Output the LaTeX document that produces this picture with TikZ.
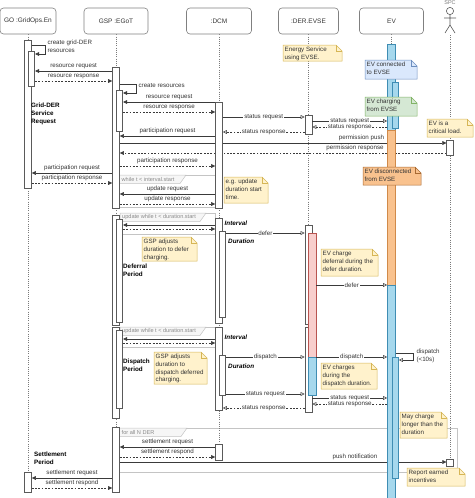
\documentclass[tikz,border=0pt]{standalone}
\usepackage{fontspec}
\setmainfont{Liberation Sans}
\usetikzlibrary{arrows.meta}
\pgfdeclarelayer{back}
\pgfsetlayers{back,main}
\definecolor{txt}{HTML}{333333}
\definecolor{ln}{HTML}{3A3A3A}
\definecolor{barD}{HTML}{5A5A5A}
\definecolor{lifeC}{HTML}{7A7A7A}
\definecolor{hdrD}{HTML}{808080}
\definecolor{frmC}{HTML}{C4C4C4}
\definecolor{tabF}{HTML}{F6F6F6}
\definecolor{tabT}{HTML}{8A8A8A}
\definecolor{yF}{HTML}{FFF2CC}\definecolor{yD}{HTML}{D6B656}
\definecolor{bF}{HTML}{DAE8FC}\definecolor{bD}{HTML}{6C8EBF}
\definecolor{gF}{HTML}{D5E8D4}\definecolor{gD}{HTML}{82B366}
\definecolor{oF}{HTML}{F9C28E}\definecolor{oD}{HTML}{A86A32}
\definecolor{evB}{HTML}{A6D8ED}\definecolor{evBD}{HTML}{3F8DB3}
\definecolor{evO}{HTML}{F9C28E}\definecolor{evOD}{HTML}{D08A4A}
\definecolor{pkF}{HTML}{F8CECC}\definecolor{pkD}{HTML}{B85450}

\newcommand\abar[5]{\pgfmathsetmacro\barh{#5-#4}\node[#1,minimum height=\barh pt,anchor=north] (#2) at (#3,#4) {};}
\newcommand\notebox[7]{%
  \filldraw[fill=#1F,draw=#1D,line width=0.5pt] (#3,#4) -- (#5-6,#4) -- (#5,#4+6) -- (#5,#6) -- (#3,#6) -- cycle;
  \draw[#1D,line width=0.5pt] (#5-6,#4) -- (#5-6,#4+6) -- (#5,#4+6);
  \node[notetxt,anchor=north west] (#2) at (#3+1.5,#4+1.8) {#7};}
\newcommand\frametab[5]{%
  \filldraw[fill=tabF,draw=frmC,line width=0.5pt] (#2,#3) -- (#4,#3) -- (#4-6,#3+8.5) -- (#2,#3+8.5) -- cycle;
  \node[tabtxt,anchor=west] (#1) at (#2+2,#3+4.5) {#5};}

\tikzset{
  hdr/.style={draw=hdrD,line width=0.6pt,rounded corners=3.5pt,fill=white,minimum height=26pt,inner sep=0pt,text=txt,font=\fontsize{6.5}{7.5}\selectfont},
  actbar/.style={draw=barD,fill=white,line width=0.55pt,minimum width=7pt,inner sep=0pt},
  nbar/.style={actbar,minimum width=6.5pt},
  pkbar/.style={actbar,fill=pkF,draw=pkD,minimum width=8pt},
  dbbar/.style={actbar,fill=evB,draw=evBD,minimum width=8pt},
  evbbar/.style={actbar,fill=evB,draw=evBD,minimum width=8pt},
  evobar/.style={actbar,fill=evO,draw=evOD,minimum width=8pt},
  evnbar/.style={actbar,fill=evB,draw=evBD,minimum width=6pt},
  msg/.style={draw=ln,line width=0.55pt,-{Triangle[length=4.2pt,width=3.8pt]}},
  rsp/.style={msg,dash pattern=on 1.8pt off 1.5pt},
  omsg/.style={draw=ln,line width=0.55pt,-{Triangle[open,length=4.2pt,width=3.8pt]}},
  orsp/.style={omsg,dash pattern=on 1.8pt off 1.5pt},
  lbl/.style={font=\fontsize{6.2}{8}\selectfont,text=txt,inner sep=0.4pt},
  lblw/.style={lbl,fill=white,inner sep=0.8pt},
  life/.style={draw=lifeC,line width=0.6pt,dash pattern=on 1pt off 1.2pt},
  frm/.style={draw=frmC,line width=0.6pt},
  tabtxt/.style={font=\fontsize{5.6}{6.5}\selectfont,text=tabT,inner sep=0pt},
  notetxt/.style={font=\fontsize{6.2}{7.8}\selectfont,text=txt,align=left,inner sep=0pt},
  boldlbl/.style={font=\fontsize{6.3}{8}\bfseries\selectfont,text=black,align=left,inner sep=0pt,anchor=north west},
  bilbl/.style={font=\fontsize{6.3}{8}\bfseries\itshape\selectfont,text=black,inner sep=0pt,anchor=west},
}

\begin{document}
\begin{tikzpicture}[x=1pt,y=-1pt]
\useasboundingbox (0,0) rectangle (474,498);

% headers
\node[hdr,minimum width=56pt] (hGO) at (28,21) {GO :GridOps.En};
\node[hdr,minimum width=64pt] (hGSP) at (116,21) {GSP :EGoT};
\node[hdr,minimum width=65pt] (hDCM) at (219,21) {:DCM};
\node[hdr,minimum width=60pt] (hDER) at (308.5,21) {:DER.EVSE};
\node[hdr,minimum width=64pt] (hEV) at (391.5,21) {EV};
% actor
\node[lbl,text=lifeC,font=\fontsize{5.5}{6}\selectfont] (spcl) at (450,2.5) {SPC};
\draw[barD,line width=0.6pt] (450,11) circle[radius=3.6pt];
\draw[barD,line width=0.6pt] (450,14.6) -- (450,25) (444,18) -- (456,18) (445,33) -- (450,25) -- (455,33);
\coordinate (spc) at (450,35);

% bars
\abar{actbar}{goA}{28}{40}{188}
\abar{nbar}{goB}{31.5}{51}{86}
\abar{actbar}{goC}{28}{472}{492}
\abar{actbar}{gspA}{116}{67}{208}
\abar{nbar}{gspB}{119.5}{90}{131}
\abar{actbar}{gspC}{116}{215}{325}
\abar{nbar}{gspD}{119.5}{219}{322}
\abar{actbar}{gspE}{116}{327}{418}
\abar{nbar}{gspF}{119.5}{330}{408}
\abar{actbar}{gspG}{116}{427}{492}
\abar{actbar}{dcmA}{219}{102}{208}
\abar{actbar}{dcmB}{219}{218}{323}
\abar{nbar}{dcmC}{222.5}{231}{317}
\abar{actbar}{dcmD}{219}{327}{410}
\abar{nbar}{dcmE}{222.5}{355}{395}
\abar{actbar}{dcmF}{219}{444}{460}
\abar{actbar}{derA}{308.5}{115}{134}
\abar{actbar}{derB}{308.5}{225}{324}
\abar{actbar}{derE}{308.5}{327}{412}
\abar{pkbar}{derC}{312}{233}{357}
\abar{dbbar}{derD}{312}{357}{395}
\abar{evbbar}{evA}{391.5}{44}{130}
\abar{evobar}{evC}{391.5}{130}{285}
\abar{evbbar}{evD}{391.5}{285}{499}
\abar{evnbar}{evB}{395.5}{82}{128}
\abar{evnbar}{evE}{395.5}{357}{478}
\abar{nbar}{spcA}{450}{140}{155}
\abar{nbar}{spcB}{450}{459}{466}

\begin{pgfonlayer}{back}
% frames
\draw[frm] (119.5,175) rectangle (215,207);
\frametab{t1}{119.5}{175}{186}{while t < interval.start}
\draw[frm] (120,213) rectangle (215.5,234);
\frametab{t2}{120}{213}{206}{update while t < duration.start}
\draw[frm] (120,327) rectangle (215.5,347);
\frametab{t3}{120}{327}{206}{update while t < duration.start}
\draw[frm] (119.5,428) rectangle (457,472);
\frametab{t4}{119.5}{428}{187}{for all N DER}
% lifelines
\draw[life] (hGO.south) -- (hGO.south|-0,472);
\draw[life] (hGSP.south) -- (hGSP.south|-0,427);
\draw[life] (hDCM.south) -- (hDCM.south|-0,444);
\draw[life] (hDER.south) -- (hDER.south|-0,412);
\draw[life] (hEV.south) -- (hEV.south|-0,44);
\draw[life] (spc) -- (spc|-0,459);
% long messages behind bars
\draw[msg] (gspA.east|-0,143) -- node[lbl,above=1.5pt,pos=0.74] (m10) {permission push} (spcA.west|-0,143);
\draw[rsp] (spcA.west|-0,153) -- node[lbl,above=1.5pt,pos=0.28] (m11) {permission response} (gspA.east|-0,153);
\draw[msg] (gspG.east|-0,462) -- node[lbl,above=1.5pt,pos=0.72] (m32) {push notification} (spcB.west|-0,462);
\end{pgfonlayer}

% self calls
\draw[msg] (goA.east|-0,45) -- (45,45) -- (45,54) -- (goB.east|-0,54);
\node[lbl,anchor=north west,align=left] (c1) at (47,39.5) {create grid-DER\\resources};
\draw[msg] (gspA.east|-0,84) -- (136,84) -- (136,93) -- (gspB.east|-0,93);
\node[lbl,anchor=west] (c2) at (138,86) {create resources};

% messages
\draw[msg] (gspA.west|-0,71) -- node[lbl,above=1.5pt] (m1) {resource request} (goB.east|-0,71);
\draw[rsp] (goB.east|-0,81) -- node[lbl,above=1.5pt] (m2) {resource response} (gspA.west|-0,81);
\draw[msg] (dcmA.west|-0,102) -- node[lbl,above=1.5pt] (m3) {resource request} (gspB.east|-0,102);
\draw[rsp] (gspB.east|-0,112) -- node[lbl,above=1.5pt] (m4) {resource response} (dcmA.west|-0,112);
\draw[omsg] (dcmA.east|-0,117) -- node[lblw] (m5) {status request} (derA.west|-0,117);
\draw[omsg] (derA.east|-0,121) -- node[lblw] (m6) {status request} (evA.west|-0,121);
\draw[orsp] (evA.west|-0,127) -- node[lblw] (m7) {status response} (derA.east|-0,127);
\draw[orsp] (derA.west|-0,132) -- node[lblw] (m8) {status response} (dcmA.east|-0,132);
\draw[msg] (dcmA.west|-0,136) -- node[lbl,above=1.5pt] (m9) {participation request} (gspA.east|-0,136);
\draw[rsp] (gspA.east|-0,166) -- node[lbl,above=1.5pt] (m12) {participation response} (dcmA.west|-0,166);
\draw[msg] (gspA.west|-0,173) -- node[lbl,above=1.5pt] (m13) {participation request} (goA.east|-0,173);
\draw[rsp] (goA.east|-0,183) -- node[lbl,above=1.5pt] (m14) {participation response} (gspA.west|-0,183);
\draw[msg] (dcmA.west|-0,194) -- node[lbl,above=1.5pt] (m15) {update request} (gspA.east|-0,194);
\draw[rsp] (gspA.east|-0,204) -- node[lbl,above=1.5pt] (m16) {update response} (dcmA.west|-0,204);
\draw[msg] (dcmB.west|-0,225) -- (gspD.east|-0,225);
\draw[rsp] (gspD.east|-0,229) -- (dcmB.west|-0,229);
\draw[omsg] (dcmC.east|-0,233) -- node[lblw] (m19) {defer} (derB.west|-0,233);
\draw[omsg] (derC.east|-0,285) -- node[lblw] (m20) {defer} (evD.west|-0,285);
\draw[msg] (dcmD.west|-0,339) -- (gspF.east|-0,339);
\draw[rsp] (gspF.east|-0,343) -- (dcmD.west|-0,343);
\draw[omsg] (dcmE.east|-0,357) -- node[lblw] (m23) {dispatch} (derE.west|-0,357);
\draw[omsg] (derD.east|-0,357) -- node[lblw] (m24) {dispatch} (evD.west|-0,357);
\draw[omsg] (evD.east|-0,353) -- (413,353) -- (413,360) -- (evE.east|-0,360);
\node[lbl,anchor=north west,align=left] (dsp) at (416,348.5) {dispatch\\(<10s)};
\draw[omsg] (dcmE.east|-0,394) -- node[lblw] (m26) {status request} (derE.west|-0,394);
\draw[omsg] (derE.east|-0,398) -- node[lblw] (m27) {status request} (evD.west|-0,398);
\draw[orsp] (evD.west|-0,404) -- node[lblw] (m28) {status response} (derE.east|-0,404);
\draw[orsp] (derE.west|-0,408) -- node[lblw] (m29) {status response} (dcmD.east|-0,408);
\draw[msg] (dcmF.west|-0,447) -- node[lbl,above=1.5pt] (m30) {settlement request} (gspG.east|-0,447);
\draw[rsp] (gspG.east|-0,457) -- node[lbl,above=1.5pt] (m31) {settlement respond} (dcmF.west|-0,457);
\draw[msg] (gspG.west|-0,478) -- node[lbl,above=1.5pt] (m33) {settlement request} (goC.east|-0,478);
\draw[rsp] (goC.east|-0,488) -- node[lbl,above=1.5pt] (m34) {settlement respond} (gspG.west|-0,488);

% bold labels
\node[boldlbl] (g1) at (31,103) {Grid-DER\\Service\\Request};
\node[boldlbl] (g2) at (123,264) {Deferral\\Period};
\node[boldlbl] (g3) at (123,359) {Dispatch\\Period};
\node[boldlbl] (g4) at (34,452) {Settlement\\Period};
\node[bilbl] (i1) at (224.5,223) {Interval};
\node[bilbl] (u1) at (228,241) {Duration};
\node[bilbl] (i2) at (224.5,337) {Interval};
\node[bilbl] (u2) at (228,366) {Duration};

% notes
\notebox{y}{n1}{283}{45}{342}{61}{Energy Service\\using EVSE.}
\notebox{b}{n2}{365}{60}{417}{79}{EV connected\\to EVSE}
\notebox{g}{n3}{365}{97}{417}{116}{EV charging\\from EVSE}
\notebox{y}{n4}{427}{119}{473}{137}{EV is a\\critical load.}
\notebox{o}{n5}{363}{167}{421}{185}{EV disconnected\\from EVSE}
\notebox{y}{n6}{224}{177}{268}{203}{e.g. update\\duration start\\time.}
\notebox{y}{n7}{142}{237}{197}{261}{GSP adjusts\\duration to defer\\charging.}
\notebox{y}{n8}{321}{249}{378}{276}{EV charge\\deferral during the\\defer duration.}
\notebox{y}{n9}{154}{352}{207}{384}{GSP adjusts\\duration to\\dispatch deferred\\charging.}
\notebox{y}{n10}{321}{363}{377}{389}{EV charges\\during the\\dispatch duration.}
\notebox{y}{n11}{400}{412}{447}{438}{May charge\\longer than the\\duration}
\notebox{y}{n12}{407}{468}{465}{486}{Report earned\\incentives}
\end{tikzpicture}
\end{document}
